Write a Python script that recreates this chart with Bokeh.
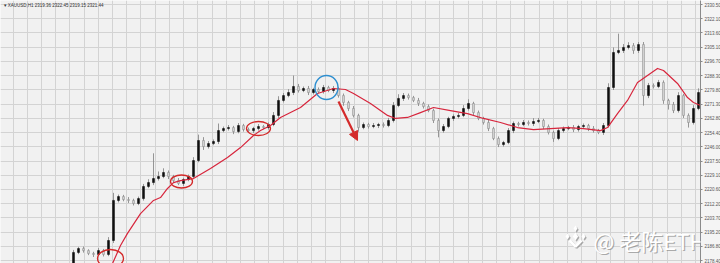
import numpy as np
from bokeh.plotting import figure
from bokeh.models import FixedTicker, NumeralTickFormatter, Grid, Label, Arrow, NormalHead
from bokeh.embed import file_html
from bokeh.resources import INLINE

# ---------------- data ----------------
first_open = 2177.0
closes = [
    2183.2, 2185.5, 2184.3, 2182.6, 2182.0, 2184.3, 2182.0, 2190.3, 2214.1, 2216.4,
    2214.6, 2214.1, 2212.3, 2215.2, 2222.4, 2224.7, 2227.1, 2228.3, 2230.7, 2228.3,
    2225.9, 2224.2, 2226.5, 2228.3, 2237.8, 2249.7, 2246.1, 2247.9, 2249.1, 2255.6,
    2256.8, 2257.4, 2255.0, 2258.6, 2256.2, 2255.6, 2256.8, 2258.0, 2257.4, 2259.2,
    2264.6, 2273.5, 2276.4, 2278.2, 2281.8, 2279.4, 2280.6, 2278.2, 2280.0, 2278.8,
    2281.2, 2279.4, 2280.6, 2276.4, 2272.3, 2268.7, 2264.6, 2257.4, 2259.2, 2258.0,
    2258.6, 2259.2, 2258.6, 2261.6, 2270.5, 2274.7, 2276.4, 2275.2, 2273.5, 2271.7,
    2269.9, 2267.5, 2261.6, 2255.6, 2258.0, 2262.8, 2264.0, 2264.6, 2268.7, 2271.7,
    2266.3, 2262.8, 2260.4, 2256.8, 2250.9, 2247.3, 2248.5, 2255.6, 2259.8, 2259.2,
    2260.4, 2259.8, 2261.0, 2261.6, 2258.0, 2254.5, 2250.9, 2255.6, 2256.8, 2257.4,
    2256.2, 2258.0, 2258.6, 2256.8, 2255.6, 2254.5, 2258.6, 2281.2, 2302.0, 2303.2,
    2305.0, 2306.1, 2303.2, 2306.7, 2276.4, 2282.4, 2281.8, 2284.2, 2273.5, 2271.1,
    2267.5, 2276.4, 2264.6, 2260.4, 2268.7, 2278.2,
]
wick_up = [
    1.5, 1.0, 1.2, 0.8, 1.0, 1.5, 1.0, 2.0, 4.5, 1.2,
    1.0, 1.5, 1.0, 1.2, 1.5, 2.0, 15.0, 3.0, 2.5, 1.2,
    1.0, 1.5, 1.0, 1.2, 2.0, 3.5, 2.0, 1.5, 1.2, 4.2,
    1.2, 1.5, 1.0, 1.5, 1.0, 1.2, 1.0, 1.5, 1.0, 1.2,
    2.0, 2.5, 1.5, 2.0, 6.5, 1.5, 1.2, 1.5, 1.0, 1.2,
    1.5, 1.0, 1.5, 1.0, 1.2, 1.0, 1.5, 1.0, 1.2, 1.0,
    1.5, 1.0, 1.2, 1.5, 2.0, 2.5, 1.5, 1.2, 1.0, 1.5,
    1.0, 1.2, 1.0, 1.2, 1.5, 1.0, 1.2, 1.5, 2.0, 2.5,
    1.0, 1.2, 1.0, 1.5, 1.0, 1.2, 1.0, 1.5, 1.2, 1.0,
    1.5, 1.2, 2.0, 1.5, 1.0, 1.2, 1.0, 1.5, 1.2, 1.0,
    1.5, 1.0, 1.2, 1.0, 1.5, 1.0, 1.5, 2.5, 3.0, 10.0,
    2.0, 2.0, 1.5, 1.5, 1.5, 1.5, 1.2, 1.5, 1.2, 1.0,
    1.5, 2.0, 1.0, 1.2, 2.0, 2.5,
]
wick_dn = [
    3.0, 1.0, 1.2, 1.0, 1.5, 1.0, 1.2, 1.0, 1.5, 1.2,
    1.0, 1.5, 1.2, 1.0, 1.2, 1.0, 1.5, 1.2, 1.0, 1.5,
    1.2, 1.0, 1.5, 1.0, 1.2, 1.0, 2.0, 1.2, 1.0, 1.5,
    1.0, 1.2, 1.5, 1.0, 1.2, 1.0, 1.5, 1.2, 1.0, 1.2,
    1.0, 1.5, 1.2, 1.0, 1.5, 1.2, 1.0, 1.5, 1.2, 1.0,
    1.2, 1.0, 1.5, 1.2, 2.0, 1.5, 1.2, 2.5, 1.0, 1.2,
    1.0, 1.5, 1.2, 1.0, 1.2, 1.0, 1.5, 1.2, 1.0, 1.5,
    1.2, 1.0, 1.5, 4.0, 1.2, 1.0, 1.5, 1.2, 1.0, 1.2,
    1.5, 1.0, 1.2, 1.5, 1.0, 1.5, 1.2, 1.0, 1.5, 1.2,
    1.0, 1.2, 1.5, 1.0, 1.5, 1.2, 2.0, 1.0, 1.2, 1.0,
    1.5, 1.2, 1.0, 1.5, 1.2, 1.0, 1.5, 1.2, 1.5, 1.0,
    1.5, 1.2, 2.0, 1.5, 6.0, 1.5, 1.2, 1.0, 2.0, 3.0,
    1.5, 1.2, 1.5, 3.0, 1.2, 1.0,
]
ma_idx = [6.2, 7.8, 9.4, 10.8, 13.4, 16.0, 17.4, 18.8, 20.0, 21.4, 24.0, 27.4, 30.8,
          33.4, 36.0, 37.4, 39.4, 41.4, 43.4, 45.4, 48.8, 52.0, 54.4, 56.0, 59.4,
          62.8, 64.4, 66.8, 69.4, 72.0, 75.4, 78.8, 82.0, 85.4, 88.8, 92.0, 95.4,
          98.8, 102.0, 105.4, 106.8, 108.8, 110.8, 112.8, 114.8, 116.8, 118.0,
          120.8, 122.8, 124.0, 125.4]
ma_val = [2171.3, 2176.6, 2187.3, 2194.5, 2206.3, 2214.1, 2215.8, 2221.2, 2224.7,
          2225.9, 2227.1, 2233.1, 2239.6, 2245.5, 2252.7, 2255.6, 2258.6, 2263.4,
          2266.3, 2269.3, 2277.6, 2280.6, 2280.0, 2277.6, 2271.7, 2264.6, 2262.8,
          2263.4, 2266.3, 2269.3, 2267.5, 2265.7, 2262.8, 2260.4, 2257.4, 2256.2,
          2256.8, 2257.4, 2256.8, 2255.6, 2257.4, 2265.7, 2273.5, 2284.2, 2288.3,
          2292.5, 2291.3, 2283.6, 2275.2, 2272.3, 2270.5]
price_ticks = [2330.50, 2322.10, 2313.60, 2305.10, 2296.70, 2288.30, 2279.80, 2271.30,
               2262.80, 2254.40, 2246.00, 2237.50, 2229.10, 2220.60, 2212.20, 2203.70,
               2195.20, 2186.80, 2178.40]
header_text = "\u25be XAUUSD,H1  2319.36 2322.45 2319.15 2321.44"
watermark_text = "@ \u8001\u9648ETH"

# ---------------- derived ----------------
n = len(closes)
idx = np.arange(n)
opens = [first_open] + closes[:-1]
highs = [max(o, c) + u for o, c, u in zip(opens, closes, wick_up)]
lows = [min(o, c) - d for o, c, d in zip(opens, closes, wick_dn)]
bull = [c >= o for o, c in zip(opens, closes)]

FW, FH = 700, 263
XR = (-14.6, 125.4)
YR = (2176.63, 2332.88)


def sx(px):
    return XR[0] + px / FW * (XR[1] - XR[0])


def sy(py):
    return YR[1] - py / FH * (YR[1] - YR[0])


p = figure(frame_width=FW, frame_height=FH, x_range=XR, y_range=YR,
           x_axis_location=None, y_axis_location="right",
           output_backend="svg", toolbar_location=None, min_border=0)
p.background_fill_color = "#f1f1f1"
p.border_fill_color = "#f4f4f4"
p.outline_line_color = None

ax = p.yaxis[0]
ax.ticker = FixedTicker(ticks=price_ticks)
ax.formatter = NumeralTickFormatter(format="0.00")
ax.major_label_text_font = "Liberation Sans"
ax.major_label_text_font_size = "4.5px"
ax.major_label_text_color = "#555555"
ax.axis_line_color = "#8a8a8a"
ax.major_tick_line_color = "#8a8a8a"
ax.major_tick_out = 2
ax.major_tick_in = 0
ax.minor_tick_line_color = None
ax.major_label_standoff = 2

p.ygrid.grid_line_color = "#d3d3d3"
p.xgrid.visible = False
xg_ticks = [sx(12.5 + 14.22 * k) for k in range(50)]
p.add_layout(Grid(dimension=0, ticker=FixedTicker(ticks=xg_ticks),
                  grid_line_color="#d3d3d3"))

# candles
p.segment(idx, highs, idx, lows, color="#8a8a8a", line_width=0.9)
bi = [i for i in range(n) if bull[i]]
ri = [i for i in range(n) if not bull[i]]
p.vbar(x=bi, width=0.38, bottom=[opens[i] for i in bi], top=[closes[i] for i in bi],
       fill_color="#111111", line_color="#111111", line_width=0.6)
p.vbar(x=ri, width=0.38, bottom=[closes[i] for i in ri], top=[opens[i] for i in ri],
       fill_color="#d6d6d6", line_color="#8e8e8e", line_width=0.6)

# moving average
p.line(ma_idx, ma_val, color="#d7263d", line_width=1.2, line_join="round")

# annotations
red = "#d42a2a"
p.ellipse(x=[sx(110), sx(181), sx(258)], y=[sy(258), sy(181), sy(128)],
          width=[26, 22, 24], height=[18, 13, 14],
          width_units="screen", height_units="screen",
          fill_color=None, line_color=red, line_width=1.3)
p.ellipse(x=[sx(326)], y=[sy(87)], width=[23], height=[24],
          width_units="screen", height_units="screen",
          fill_color=None, line_color="#2e8fd0", line_width=1.4)
p.add_layout(Arrow(end=NormalHead(size=9, fill_color=red, line_color=red),
                   x_start=sx(338), y_start=sy(101), x_end=sx(357), y_end=sy(140),
                   line_color=red, line_width=2.2))

p.add_layout(Label(x=3, y=FH - 2, x_units="screen", y_units="screen",
                   text=header_text, text_font="Liberation Sans",
                   text_font_size="4.5px", text_color="#333333",
                   text_baseline="top"))

# watermark logo
for dx, dy, col, alpha in [(1.2, 1.2, "#8a8a8a", 0.7), (0, 0, "#ffffff", 1.0)]:
    p.scatter(x=[sx(575 + dx), sx(575 + dx), sx(567 + dx), sx(583 + dx)],
              y=[sy(236 + dy), sy(228 + dy), sy(236 + dy), sy(236 + dy)],
              size=[8, 6, 6, 6], marker="diamond", fill_color=col,
              line_color=None, fill_alpha=alpha)
    p.line([sx(569 + dx), sx(575 + dx), sx(581 + dx)],
           [sy(240 + dy), sy(246 + dy), sy(240 + dy)],
           line_width=2.6, color=col, line_alpha=alpha)
    p.add_layout(Label(x=593 + dx, y=FH - 223 - dy, x_units="screen", y_units="screen",
                       text=watermark_text, text_font="Noto Sans CJK SC",
                       text_font_size="22px", text_color=col, text_alpha=alpha,
                       text_baseline="top"))

open("out.html", "w").write(file_html(p, INLINE))
